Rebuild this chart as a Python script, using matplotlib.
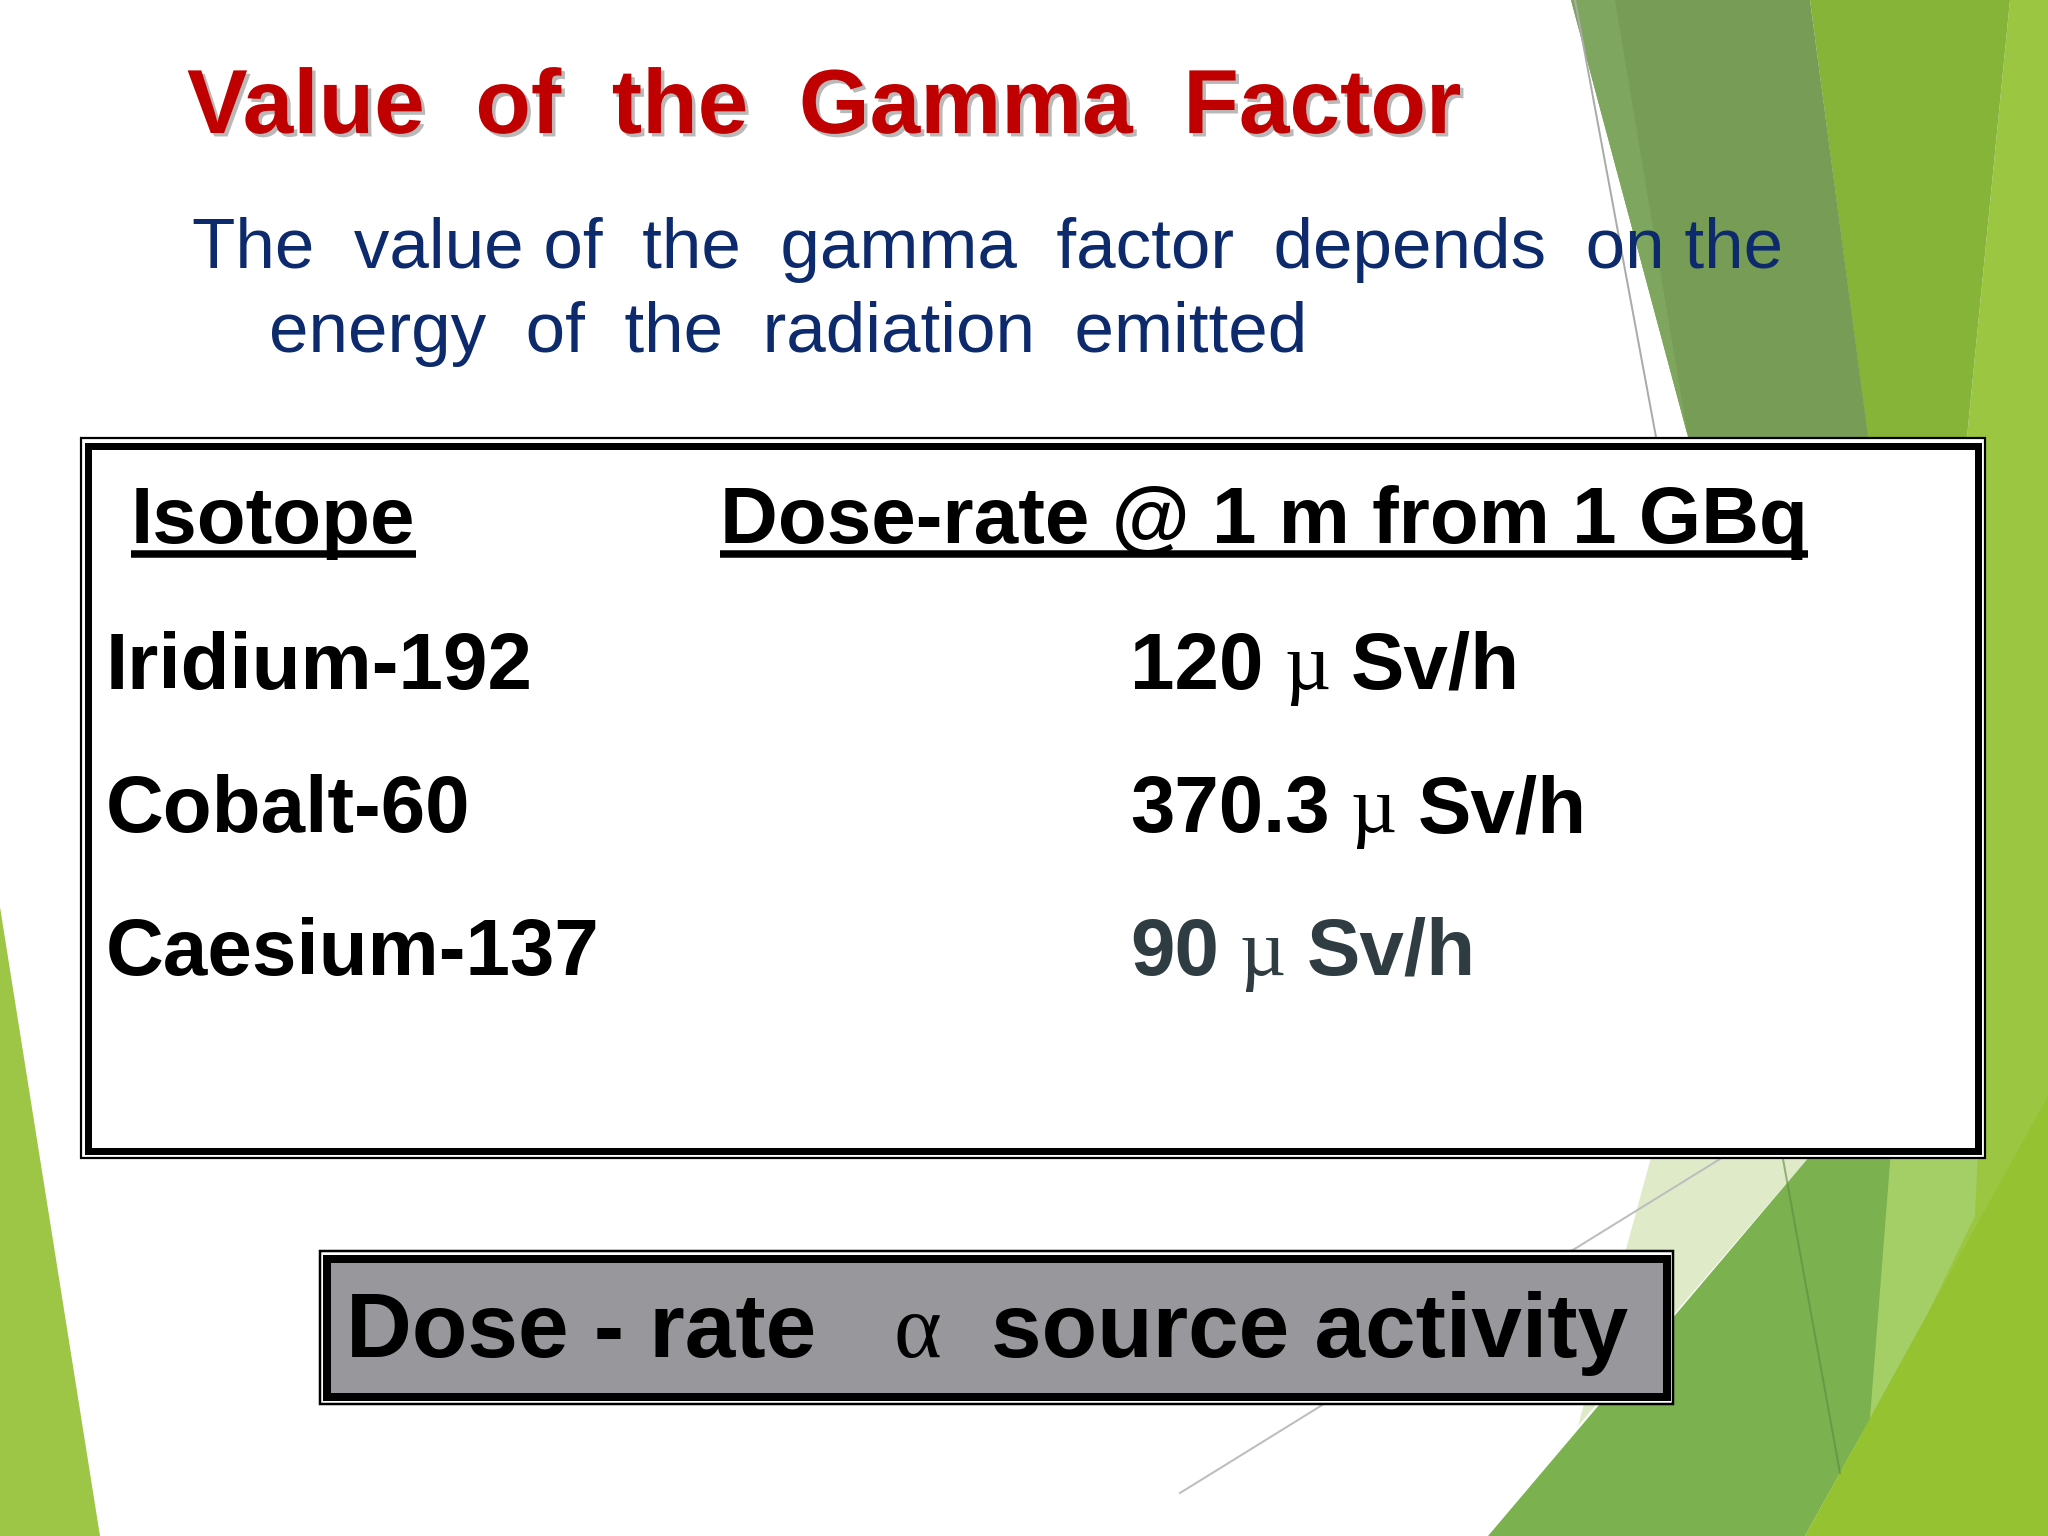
import matplotlib
matplotlib.use("Agg")
import matplotlib.pyplot as plt
from matplotlib.patches import Polygon, Rectangle
import matplotlib.patheffects as pe

# ---------------- data ----------------
title_text = "Value  of  the  Gamma  Factor"
subtitle_lines = ["The  value of  the  gamma  factor  depends  on the",
                  "energy  of  the  radiation  emitted"]
header_isotope = "Isotope"
header_dose = "Dose-rate @ 1 m from 1 GBq"
isotopes = ["Iridium-192", "Cobalt-60", "Caesium-137"]
dose_rates = ["120", "370.3", "90"]
micro = "\u00b5"
unit = "Sv/h"
value_colors = ["#000000", "#000000", "#2F3D42"]
relation_left = "Dose - rate"
relation_symbol = "\u03b1"
relation_right = "source activity"

# ---------------- figure ----------------
W, H = 2048, 1536
DPI = 100
fig = plt.figure(figsize=(W / DPI, H / DPI), dpi=DPI)
ax = fig.add_axes([0, 0, 1, 1])
ax.set_xlim(0, W)
ax.set_ylim(H, 0)
ax.axis("off")
fig.patch.set_facecolor("white")

PT = 72.0 / DPI  # points per pixel


def px(v):
    return v * PT


# ---------------- background facets ----------------
def poly(pts, color, z=0, alpha=1.0):
    ax.add_patch(Polygon(pts, closed=True, facecolor=color, edgecolor="none",
                         zorder=z, alpha=alpha))

poly([(0, 907), (100, 1536), (0, 1536)], "#9DC646")
poly([(2010, 0), (2048, 0), (2048, 1536), (1850, 1536), (1896, 1160)], "#9AC641")
poly([(1810, 0), (2010, 0), (1896, 1160), (1963, 1160)], "#86B438", z=0.1)
poly([(1571, 0), (1810, 0), (1963, 1150), (1879, 1150)], "#779C55", z=0.2)
poly([(1571, 0), (1615, 0), (1688, 437)], "#7FA65E", z=0.25)
poly([(1653, 1150), (1815, 1150), (1578, 1426)], "#DFEBC8", z=0.3)
poly([(1815, 1150), (1893, 1150), (1870, 1419), (1805, 1536), (1488, 1536)], "#7BB14F", z=0.4)
poly([(1891, 1150), (1978, 1150), (1975, 1216), (1928, 1313), (1870, 1419)], "#A4CF66", z=0.4)
poly([(2048, 1096), (2048, 1536), (1805, 1536)], "#94C231", z=0.5)

ax.plot([1575, 1656], [0, 437], color="#ABABAB", lw=px(2), zorder=0.6)
ax.plot([1720, 1180], [1159, 1493], color="#BDBDBD", lw=px(2), zorder=0.6)
ax.plot([1783, 1840], [1159, 1473], color="#5E8A3E", lw=px(2), alpha=0.6, zorder=0.6)

# ---------------- text helpers ----------------
SANS = ["Liberation Sans", "DejaVu Sans"]
SERIF = ["Liberation Serif", "DejaVu Serif"]
fig.canvas.draw()
renderer = fig.canvas.get_renderer()


def put(x, y, s, size_px, color="black", weight="normal", family=SANS, z=5, effects=None):
    t = ax.text(x, y, s, fontsize=px(size_px), color=color, fontweight=weight,
                family=family, ha="left", va="baseline", zorder=z)
    if effects:
        t.set_path_effects(effects)
    bb = t.get_window_extent(renderer)
    return t, bb.x0, bb.x1


# ---------------- title ----------------
shadow = [pe.SimplePatchShadow(offset=(2.5, -2.5), shadow_rgbFace="#808080", alpha=0.55), pe.Normal()]
put(187, 133, title_text, 91, color="#C00000", weight="bold", effects=shadow)

# ---------------- subtitle ----------------
put(192, 268, subtitle_lines[0], 71, color="#0C2A6C")
put(269, 352, subtitle_lines[1], 71, color="#0C2A6C")

# ---------------- table box ----------------
ax.add_patch(Rectangle((81, 438), 1985 - 81, 1158 - 438, facecolor="white",
                       edgecolor="black", lw=px(2.2), zorder=3))
ax.add_patch(Rectangle((88, 445.5), 1977.5 - 88, 1151 - 445.5, facecolor="white",
                       edgecolor="black", lw=px(7), zorder=3.1))

EM_T = 80
# headers, underlined
for xs, s in [(131, header_isotope), (720, header_dose)]:
    t, x0, x1 = put(xs, 543, s, EM_T, weight="bold")
    ax.plot([x0, x1], [554, 554], color="black", lw=px(7.5), solid_capstyle="butt", zorder=5)

# rows
row_y0, row_dy = 689, 143
for i, (iso, val, col) in enumerate(zip(isotopes, dose_rates, value_colors)):
    y = row_y0 + i * row_dy
    put(106, y, iso, EM_T, weight="bold")
    _, _, xe = put(1130, y, val, EM_T, color=col, weight="bold")
    _, _, xe = put(xe + 0.26 * EM_T, y, micro, EM_T, color=col, family=SERIF)
    put(xe + 0.26 * EM_T, y, unit, EM_T, color=col, weight="bold")

# ---------------- relation box ----------------
ax.add_patch(Rectangle((320, 1251), 1673 - 320, 1404 - 1251, facecolor="white",
                       edgecolor="black", lw=px(2.5), zorder=3))
ax.add_patch(Rectangle((327, 1259), 1667 - 327, 1397 - 1259, facecolor="#98979B",
                       edgecolor="black", lw=px(8), zorder=3.1))
EM_B = 91
_, _, xe = put(346, 1357, relation_left, EM_B, weight="bold")
_, _, xe = put(xe + 0.85 * EM_B, 1357, relation_symbol, EM_B, family=SERIF)
put(xe + 0.55 * EM_B, 1357, relation_right, EM_B, weight="bold")

fig.savefig("out.png", dpi=DPI, facecolor="white")
